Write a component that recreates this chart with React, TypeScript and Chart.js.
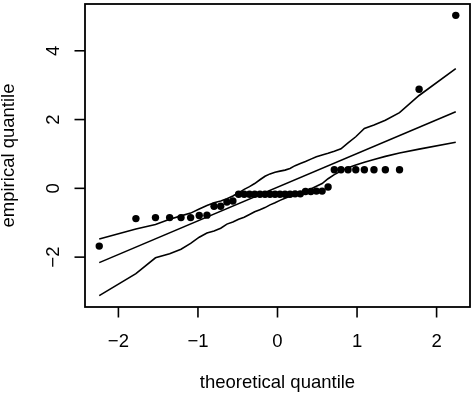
import React, { useEffect, useRef } from "react";
import { Chart, registerables } from "chart.js";

Chart.register(...registerables);

// Theoretical normal quantiles (n = 40)
const theoreticalQ = [
  -2.241, -1.78, -1.534, -1.356, -1.213, -1.092, -0.984, -0.887, -0.798, -0.714,
  -0.636, -0.561, -0.489, -0.419, -0.352, -0.287, -0.221, -0.157, -0.094, -0.031,
  0.031, 0.094, 0.157, 0.221, 0.287, 0.352, 0.419, 0.489, 0.561, 0.636,
  0.714, 0.798, 0.887, 0.984, 1.092, 1.213, 1.356, 1.534, 1.78, 2.241,
];

// Sorted empirical values
const empiricalQ = [
  -1.68, -0.88, -0.85, -0.85, -0.85, -0.85, -0.79, -0.78, -0.52, -0.52,
  -0.4, -0.37, -0.17, -0.17, -0.17, -0.17, -0.17, -0.17, -0.17, -0.17,
  -0.17, -0.17, -0.17, -0.16, -0.16, -0.09, -0.09, -0.08, -0.08, 0.04,
  0.54, 0.54, 0.54, 0.54, 0.54, 0.54, 0.54, 0.54, 2.88, 5.03,
];

// Simulation envelope
const upperEnv = [
  -1.47, -1.18, -1.05, -0.9, -0.8, -0.72, -0.6, -0.5, -0.42, -0.37,
  -0.3, -0.22, -0.13, -0.03, 0.05, 0.14, 0.25, 0.35, 0.42, 0.47,
  0.5, 0.53, 0.58, 0.66, 0.72, 0.78, 0.85, 0.92, 0.97, 1.02,
  1.08, 1.15, 1.32, 1.5, 1.74, 1.84, 1.98, 2.2, 2.7, 3.48,
];
const lowerEnv = [
  -3.12, -2.48, -2.02, -1.9, -1.77, -1.6, -1.42, -1.3, -1.24, -1.16,
  -1.04, -0.98, -0.9, -0.84, -0.76, -0.68, -0.62, -0.56, -0.48, -0.42,
  -0.35, -0.29, -0.23, -0.18, -0.13, -0.1, -0.02, 0.06, 0.14, 0.28,
  0.4, 0.5, 0.6, 0.68, 0.76, 0.84, 0.93, 1.03, 1.14, 1.34,
];

// Reference line end points
const refLineX = [-2.241, 2.241];
const refLineY = [-2.16, 2.23];

const xTicks = [-2, -1, 0, 1, 2];
const yTicks = [-2, 0, 2, 4];
const xTitle = "theoretical quantile";
const yTitle = "empirical quantile";

const FONT = '"Liberation Sans", Arial, Helvetica, sans-serif';
const fmt = (v: number) => (v < 0 ? "\u2212" + Math.abs(v) : String(v));

const rAxesPlugin = {
  id: "rAxes",
  afterDraw(chart: any) {
    const { ctx, chartArea: a, scales } = chart;
    const xs = scales.x;
    const ys = scales.y;
    ctx.save();
    ctx.strokeStyle = "#000";
    ctx.fillStyle = "#000";
    ctx.lineWidth = 1.8;
    ctx.strokeRect(a.left, a.top, a.right - a.left, a.bottom - a.top);
    ctx.lineWidth = 1.6;
    const tl = 10.5;
    ctx.font = `18.5px ${FONT}`;
    // x ticks
    ctx.textAlign = "center";
    ctx.textBaseline = "alphabetic";
    for (const t of xTicks) {
      const px = xs.getPixelForValue(t);
      ctx.beginPath();
      ctx.moveTo(px, a.bottom);
      ctx.lineTo(px, a.bottom + tl);
      ctx.stroke();
      ctx.fillText(fmt(t), px, 347);
    }
    // y ticks
    for (const t of yTicks) {
      const py = ys.getPixelForValue(t);
      ctx.beginPath();
      ctx.moveTo(a.left, py);
      ctx.lineTo(a.left - tl, py);
      ctx.stroke();
      ctx.save();
      ctx.translate(59, py);
      ctx.rotate(-Math.PI / 2);
      ctx.fillText(fmt(t), 0, 0);
      ctx.restore();
    }
    // titles
    const cx = (a.left + a.right) / 2;
    const cy = (a.top + a.bottom) / 2;
    ctx.fillText(xTitle, cx, 388);
    ctx.save();
    ctx.translate(14, cy);
    ctx.rotate(-Math.PI / 2);
    ctx.fillText(yTitle, 0, 0);
    ctx.restore();
    ctx.restore();
  },
};

export default function App() {
  const ref = useRef<HTMLCanvasElement | null>(null);
  useEffect(() => {
    const prevMargin = document.body.style.margin;
    document.body.style.margin = "0";
    if (!ref.current) return;
    const pts = theoreticalQ.map((x, i) => ({ x, y: empiricalQ[i] }));
    const up = theoreticalQ.map((x, i) => ({ x, y: upperEnv[i] }));
    const lo = theoreticalQ.map((x, i) => ({ x, y: lowerEnv[i] }));
    const ref2 = refLineX.map((x, i) => ({ x, y: refLineY[i] }));
    const lineDs = (label: string, data: any[]) => ({
      label,
      data,
      showLine: true,
      borderColor: "#000",
      borderWidth: 1.6,
      pointRadius: 0,
      fill: false,
      tension: 0,
    });
    const chart = new Chart(ref.current, {
      type: "scatter",
      data: {
        datasets: [
          lineDs("upper", up),
          lineDs("reference", ref2),
          lineDs("lower", lo),
          {
            label: "sample",
            data: pts,
            pointRadius: 3.7,
            pointBackgroundColor: "#000",
            pointBorderColor: "#000",
            pointBorderWidth: 0,
            showLine: false,
          },
        ],
      },
      options: {
        responsive: false,
        animation: false,
        maintainAspectRatio: false,
        layout: { padding: { left: 85, right: 2.5, top: 1.5, bottom: 87 } },
        plugins: { legend: { display: false }, tooltip: { enabled: false } },
        scales: {
          x: { type: "linear", min: -2.42, max: 2.42, display: false },
          y: { type: "linear", min: -3.45, max: 5.36, display: false },
        },
      },
      plugins: [rAxesPlugin],
    });
    return () => {
      chart.destroy();
      document.body.style.margin = prevMargin;
    };
  }, []);
  return (
    <div style={{ width: 474, height: 394 }}>
      <canvas ref={ref} width={474} height={394} style={{ display: "block" }} />
    </div>
  );
}
